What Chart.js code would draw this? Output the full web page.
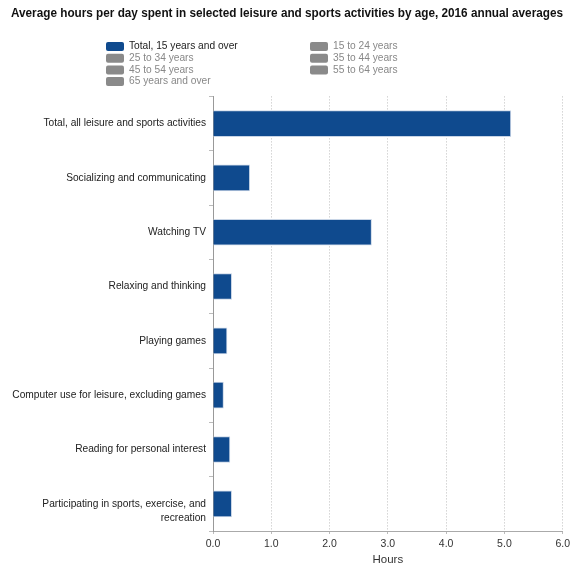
<!DOCTYPE html>
<html>
<head>
<meta charset="utf-8">
<script src="https://cdn.jsdelivr.net/npm/chart.js@4"></script>
<style>
  html, body { margin: 0; padding: 0; background: #fff; }
  #wrap { width: 574px; height: 567px; }
</style>
</head>
<body>
<div id="wrap"><canvas id="leisureChart"></canvas></div>
<script>
// chart data
const activities = [
    'Total, all leisure and sports activities',
    'Socializing and communicating',
    'Watching TV',
    'Relaxing and thinking',
    'Playing games',
    'Computer use for leisure, excluding games',
    'Reading for personal interest',
    ['Participating in sports, exercise, and', 'recreation']
];
const totalHours = [5.11, 0.63, 2.72, 0.32, 0.24, 0.18, 0.29, 0.32];
const ageGroups = [
    '15 to 24 years', '25 to 34 years', '35 to 44 years',
    '45 to 54 years', '55 to 64 years', '65 years and over'
];
const hourTicks = [0, 1, 2, 3, 4, 5, 6];

const FONT = "'Liberation Sans', Arial, Helvetica, sans-serif";
const BLUE = '#0f4a8e';
const GREY = '#8a8a8a';
const PAD_LEFT = 11;

// legend laid out in two columns, drawn on the canvas
const columnLegend = {
    id: 'columnLegend',
    afterDraw(chart, args, opts) {
        const ctx = chart.ctx;
        ctx.save();
        ctx.font = '10.2px ' + FONT;
        ctx.textBaseline = 'middle';
        chart.data.datasets.forEach((ds, i) => {
            const col = i % 2;
            const row = Math.floor(i / 2);
            const x = opts.columns[col];
            const y = opts.top + row * opts.rowHeight;
            const active = !ds.hidden;
            ctx.fillStyle = active ? ds.backgroundColor : GREY;
            ctx.beginPath();
            ctx.roundRect(x, y - 4.5, 18, 9, 2);
            ctx.fill();
            ctx.fillStyle = active ? '#222' : '#888';
            ctx.fillText(ds.label, x + 23, y);
        });
        ctx.restore();
    }
};

const datasets = [{
    label: 'Total, 15 years and over',
    data: totalHours,
    backgroundColor: BLUE,
    borderColor: '#c8d5e6',
    borderWidth: 1,
    barThickness: 26
}].concat(ageGroups.map(name => ({
    label: name,
    data: [],
    hidden: true,
    backgroundColor: GREY
})));

new Chart(document.getElementById('leisureChart'), {
    type: 'bar',
    data: { labels: activities, datasets: datasets },
    plugins: [columnLegend],
    options: {
        indexAxis: 'y',
        responsive: true,
        maintainAspectRatio: false,
        animation: false,
        layout: { padding: { left: PAD_LEFT, right: 11, top: 0, bottom: 0 } },
        plugins: {
            legend: { display: false },
            tooltip: { enabled: false },
            title: {
                display: true,
                text: 'Average hours per day spent in selected leisure and sports activities by age, 2016 annual averages',
                color: '#111',
                font: { family: FONT, size: 12, weight: 'bold' },
                padding: { top: 6, bottom: 76 }
            },
            columnLegend: { columns: [106, 310], top: 46.5, rowHeight: 11.7 }
        },
        scales: {
            x: {
                min: 0,
                max: 6,
                afterBuildTicks: scale => {
                    scale.ticks = hourTicks.map(v => ({ value: v }));
                },
                afterFit: scale => { scale.height = 36; },
                ticks: {
                    color: '#333',
                    font: { family: FONT, size: 10.5 },
                    padding: 4,
                    callback: v => v.toFixed(1)
                },
                grid: {
                    color: '#bdbdbd',
                    tickLength: 3,
                    tickColor: '#bbb'
                },
                border: { display: true, color: '#aaa', width: 1, dash: [1, 2] },
                title: {
                    display: true,
                    text: 'Hours',
                    color: '#333',
                    font: { family: FONT, size: 11.5 },
                    padding: { top: 3, bottom: 0 }
                }
            },
            y: {
                afterFit: scale => { scale.width = 213 - PAD_LEFT; },
                ticks: {
                    color: '#222',
                    font: { family: FONT, size: 10.2, lineHeight: 1.37 },
                    padding: 3,
                    // wrapped labels hang down from the category centre
                    callback: function (value) {
                        const lbl = this.getLabelForValue(value);
                        return Array.isArray(lbl) ? [''].concat(lbl) : lbl;
                    }
                },
                grid: {
                    drawOnChartArea: false,
                    tickLength: 4,
                    color: '#bbb'
                },
                border: { display: true, color: '#999', width: 1 }
            }
        }
    }
});
</script>
</body>
</html>
